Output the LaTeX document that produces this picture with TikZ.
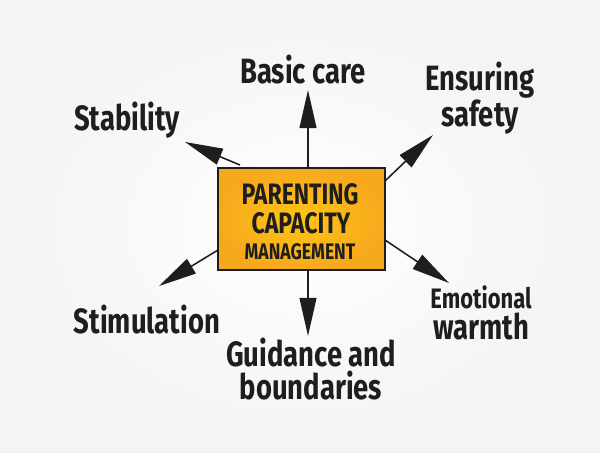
\documentclass[tikz,border=0pt]{standalone}
\usepackage{fontspec}
\setmainfont{Fira Sans}
\newfontfamily\hand[FakeStretch=0.78]{Fira Sans}
\usetikzlibrary{arrows.meta}
\definecolor{boxorange}{HTML}{F7A91E}
\definecolor{boxyellow}{HTML}{FFC414}
\definecolor{ink}{HTML}{1E1E1E}
\begin{document}
\begin{tikzpicture}
        [
            x=0.025cm, y=-0.025cm,
            spoke/.style={-{Triangle[length=0.95cm, width=0.42cm, fill=ink]}, draw=ink, line width=1.1pt},
            topic/.style={font=\hand\bfseries\fontsize{25}{23}\selectfont, text=ink, align=center},
            title/.style={font=\hand\bfseries, text=ink, align=center}
        ]
        % background
        \shade[inner color=white, outer color=gray!9] (0,0) rectangle (600,453);
        \useasboundingbox (0,0) rectangle (600,453);

        \node[draw=ink, line width=1.2pt, minimum width=4.175cm, minimum height=2.55cm,
              inner color=boxyellow, outer color=boxorange] (box) at (301.5,219) {};
        \node[title, font=\hand\bfseries\fontsize{21}{22}\selectfont] (t1) at (300,194) {PARENTING};
        \node[title, font=\hand\bfseries\fontsize{21}{22}\selectfont] (t2) at (301,223) {CAPACITY};
        \node[title, font=\hand\bfseries\fontsize{16}{16}\selectfont] (t3) at (300,252) {MANAGEMENT};

        \node[topic] (care) at (303,70) {Basic care};
        \node[topic] (safety) at (480,98) {Ensuring\\safety};
        \node[topic] (stab) at (127,120) {Stability};
        \node[topic] (stim) at (147,320) {Stimulation};
        \node[topic] (guide) at (311,369) {Guidance and\\boundaries};
        \node[topic, font=\hand\bfseries\fontsize{20}{22}\selectfont] (warm) at (481,313) {Emotional\\\fontsize{25}{22}\selectfont warmth};

        \coordinate (up) at (308,90);
        \coordinate (down) at (308,336);
        \coordinate (ul) at (185,142);
        \coordinate (ur) at (433,135);
        \coordinate (ll) at (159,286);
        \coordinate (lr) at (449,283);

        \draw[spoke] (308,168) -- (up);
        \draw[spoke] (308,270) -- (down);
        \draw[spoke] (240,165) -- (ul);
        \draw[spoke] (385,181) -- (ur);
        \draw[spoke] (218,250) -- (ll);
        \draw[spoke] (385,240) -- (lr);
\end{tikzpicture}
\end{document}
